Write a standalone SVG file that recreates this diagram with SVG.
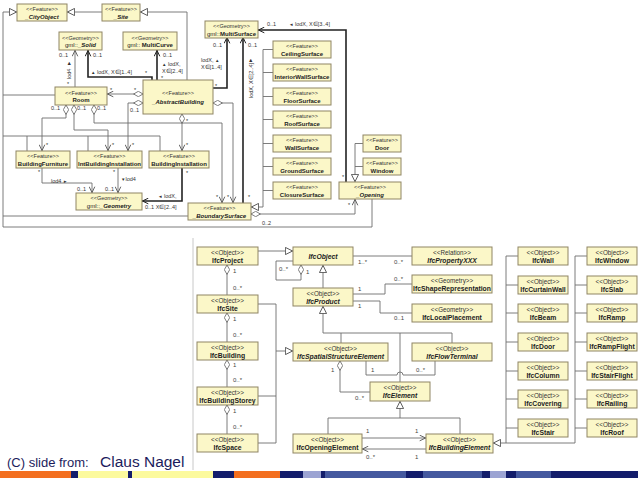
<svg xmlns="http://www.w3.org/2000/svg" width="638" height="478" viewBox="0 0 638 478">
<style>
.b{fill:#fbf7c8;stroke:#8f8564;stroke-width:1}
.s{font-family:"Liberation Sans",Arial,sans-serif;font-size:5.5px;fill:#333;text-anchor:middle}
.n{font-family:"Liberation Sans",Arial,sans-serif;font-size:6px;font-weight:bold;fill:#222;text-anchor:middle}
.s2{font-family:"Liberation Sans",Arial,sans-serif;font-size:6.3px;fill:#333;text-anchor:middle}
.n2{font-family:"Liberation Sans",Arial,sans-serif;font-size:6.8px;font-weight:bold;fill:#222;text-anchor:middle}
.i{font-style:italic}
.r{font-weight:normal}
.c{fill:none;stroke:#6e6e6e;stroke-width:0.9}
.k{fill:none;stroke:#222;stroke-width:1.6}
.m{font-family:"Liberation Sans",Arial,sans-serif;font-size:5.5px;fill:#333}
.m2{font-family:"Liberation Sans",Arial,sans-serif;font-size:6px;fill:#444}
</style>
<defs>
<marker id="tri" viewBox="0 0 10 10" refX="10" refY="5" markerWidth="8" markerHeight="8" markerUnits="userSpaceOnUse" orient="auto"><path d="M0.5,0.5 L9.5,5 L0.5,9.5 z" fill="#fff" stroke="#555" stroke-width="1.2"/></marker>
<marker id="arr" viewBox="0 0 10 10" refX="10" refY="5" markerWidth="7" markerHeight="7" markerUnits="userSpaceOnUse" orient="auto"><path d="M1,1 L9.5,5 L1,9" fill="none" stroke="#555" stroke-width="1.3"/></marker>
<marker id="arrk" viewBox="0 0 10 10" refX="10" refY="5" markerWidth="7" markerHeight="7" markerUnits="userSpaceOnUse" orient="auto"><path d="M1,1 L9.5,5 L1,9" fill="none" stroke="#222" stroke-width="1.4"/></marker>
<marker id="dia" viewBox="0 0 16 10" refX="0.5" refY="5" markerWidth="10" markerHeight="6.5" markerUnits="userSpaceOnUse" orient="auto"><path d="M0.5,5 L8,0.7 L15.5,5 L8,9.3 z" fill="#fff" stroke="#555" stroke-width="1.2"/></marker>
</defs>
<rect width="638" height="478" fill="#fff"/>

<g id="connectors">
<!-- CityGML generalizations -->
<path class="c" d="M102,12 H67" marker-end="url(#tri)"/>
<path class="c" d="M3,227 V12 H17" marker-end="url(#tri)"/>
<path class="c" d="M55,95 H3"/>
<path class="c" d="M3,136 H160 V151 M27,136 V151 M88,136 V151"/>
<path class="c" d="M188,216 H3"/>
<path class="c" d="M372,199 V227 H3"/>
<path class="c" d="M187,80 V12 H140" marker-end="url(#tri)"/>
<path class="c" d="M263,49.5 V207 H251" marker-end="url(#tri)"/>
<path class="c" d="M273,49.5 H263 M273,72.5 H263 M273,96.5 H263 M273,119.5 H263 M273,143.5 H263 M273,166.5 H263 M273,190.5 H263"/>
<path class="c" d="M363,143.5 H355 V182" marker-end="url(#tri)"/>
<path class="c" d="M363,166.5 H355"/>
<!-- CityGML aggregations -->
<path class="c" d="M143,94 H107" marker-start="url(#dia)" marker-end="url(#arr)"/>
<path class="c" d="M143,103 H128 V151" marker-start="url(#dia)" marker-end="url(#arr)"/>
<path class="c" d="M182,114 V151" marker-start="url(#dia)" marker-end="url(#arr)"/>
<path class="c" d="M213,103 H233 V203" marker-start="url(#dia)" marker-end="url(#arr)"/>
<path class="c" d="M66,105 V118 H42 V151" marker-start="url(#dia)" marker-end="url(#arr)"/>
<path class="c" d="M74,105 V130 H108 V151" marker-start="url(#dia)" marker-end="url(#arr)"/>
<path class="c" d="M94,105 V123 H222 V203" marker-start="url(#dia)" marker-end="url(#arr)"/>
<path class="c" d="M251,214 H355 V199" marker-start="url(#dia)" marker-end="url(#arr)"/>
<!-- CityGML geometry associations -->
<path class="k" d="M152,80 V77 H88 V50" marker-end="url(#arrk)"/>
<path class="c" d="M75,87 V50" marker-end="url(#arr)"/>
<path class="k" d="M157,80 V50" marker-end="url(#arrk)"/>
<path class="k" d="M213,88 H227 V37" marker-end="url(#arrk)"/>
<path class="k" d="M243,203 V37" marker-end="url(#arrk)"/>
<path class="k" d="M346,182 V30 H258" marker-end="url(#arrk)"/>
<path class="k" d="M182,168 V201 H142" marker-end="url(#arrk)"/>
<path class="c" d="M42,168 V183 H92 V193" marker-end="url(#arr)"/>
<path class="c" d="M118,168 V193" marker-end="url(#arr)"/>

<!-- IFC frame -->
<path d="M193,238 V470" fill="none" stroke="#c8c8c8" stroke-width="1"/>
<!-- IFC generalizations -->
<path class="c" d="M258,251 H293" marker-end="url(#tri)"/>
<path class="c" d="M323,288 V265" marker-end="url(#tri)"/>
<path class="c" d="M323,333 V306" marker-end="url(#tri)"/>
<path class="c" d="M323,333 H452 V343 M341,333 V343 M400,333 V382"/>
<path class="c" d="M258,304 H276 V443 H258 M258,396 H276"/>
<path class="c" d="M276,351 H293" marker-end="url(#tri)"/>
<path class="c" d="M400,418 V401" marker-end="url(#tri)"/>
<path class="c" d="M328,434 V418 H460 V434"/>
<path class="c" d="M575,443 H493" marker-end="url(#tri)"/>
<path class="c" d="M506,256 V443 M575,256 V443"/>
<path class="c" d="M506,256 H518 M506,285 H518 M506,313 H518 M506,342 H518 M506,371 H518 M506,399 H518 M506,428 H518"/>
<path class="c" d="M575,256 H587 M575,285 H587 M575,313 H587 M575,342 H587 M575,371 H587 M575,399 H587 M575,428 H587"/>
<!-- IFC aggregations -->
<path class="c" d="M227,265 V295" marker-start="url(#dia)"/>
<path class="c" d="M227,313 V342" marker-start="url(#dia)"/>
<path class="c" d="M227,360 V387" marker-start="url(#dia)"/>
<path class="c" d="M227,405 V434" marker-start="url(#dia)"/>
<path class="c" d="M301,265 V280 H276 V261 H293" marker-start="url(#dia)"/>
<path class="c" d="M340,361 V392 H370" marker-start="url(#dia)"/>
<!-- IFC associations -->
<path class="c" d="M353,256 H412"/>
<path class="c" d="M353,294 H385 V284 H412"/>
<path class="c" d="M353,301 H380 V313 H412"/>
<path class="c" d="M366,361 V375 H397 A3,3 0 0 1 403,375 H435 V361"/>
<path class="c" d="M362,438 H426" marker-end="url(#arr)"/>
<path class="c" d="M426,449 H362" marker-end="url(#arr)"/>
</g>

<g id="labels">
<text class="m" x="59" y="57">0..1</text>
<text class="m" x="93" y="57">0..1</text>
<text class="m" x="66.5" y="65" font-size="4.5">▲</text>
<text class="m" transform="translate(71,79) rotate(-90)">lod4</text>
<text class="m" x="67" y="86">*</text>
<text class="m" x="91" y="74"><tspan font-size="4.5">▲</tspan> lodX, X∈[1..4]</text>
<text class="m" x="145" y="75">*</text>
<text class="m" x="163" y="57">0..1</text>
<text class="m" x="162" y="66"><tspan font-size="4.5">▲</tspan> lodX,</text>
<text class="m" x="162" y="73">X∈[2..4]</text>
<text class="m" x="161" y="80">*</text>
<text class="m" x="110" y="92">*</text>
<text class="m" x="134" y="92">*</text>
<text class="m" x="51" y="110">0..1</text>
<text class="m" x="77" y="110">0..1</text>
<text class="m" x="97" y="110">0..1</text>
<text class="m" x="130" y="112">0..1</text>
<text class="m" x="186" y="123">*</text>
<text class="m" x="46" y="147">*</text>
<text class="m" x="112" y="147">*</text>
<text class="m" x="132" y="147">*</text>
<text class="m" x="186" y="147">*</text>
<text class="m" x="38" y="174">*</text>
<text class="m" x="113" y="174">*</text>
<text class="m" x="186" y="175">*</text>
<text class="m" x="51" y="183">lod4 <tspan font-size="4.5">►</tspan></text>
<text class="m" x="121" y="181"><tspan font-size="4.5">▼</tspan>lod4</text>
<text class="m" x="77" y="191">0..1</text>
<text class="m" x="105" y="191">0..1</text>
<text class="m" x="158" y="198"><tspan font-size="4.5">◄</tspan> lodX,</text>
<text class="m" x="145" y="209">0..1 X∈[2..4]</text>
<text class="m" x="213" y="47">0..1</text>
<text class="m" x="201" y="62">lodX, <tspan font-size="4.5">▲</tspan></text>
<text class="m" x="201" y="69">X∈[1..4]</text>
<text class="m" x="215" y="88">*</text>
<text class="m" x="248" y="47">0..1</text>
<text class="m" x="248" y="62" font-size="4.5">▲</text>
<text class="m" transform="translate(252.5,98) rotate(-90)">lodX, X∈[2..4]</text>
<text class="m" x="267" y="26">0..1</text>
<text class="m" x="289" y="26"><tspan font-size="4.5">◄</tspan> lodX, X∈[3..4]</text>
<text class="m" x="216" y="199">*</text>
<text class="m" x="227" y="199">*</text>
<text class="m" x="248" y="199">*</text>
<text class="m" x="262" y="225">0..2</text>
<text class="m" x="342" y="179">*</text>
<text class="m" x="348" y="207">*</text>

<text class="m2" x="233" y="273">1</text>
<text class="m2" x="233" y="290">0..*</text>
<text class="m2" x="233" y="321">1</text>
<text class="m2" x="233" y="337">0..*</text>
<text class="m2" x="233" y="367">1</text>
<text class="m2" x="233" y="382">0..*</text>
<text class="m2" x="233" y="413">1</text>
<text class="m2" x="233" y="429">0..*</text>
<text class="m2" x="279" y="271">0..*</text>
<text class="m2" x="306" y="274">1</text>
<text class="m2" x="358" y="264">1..*</text>
<text class="m2" x="394" y="264">0..*</text>
<text class="m2" x="358" y="291">1</text>
<text class="m2" x="394" y="281">0..*</text>
<text class="m2" x="358" y="308">1</text>
<text class="m2" x="394" y="320">0..1</text>
<text class="m2" x="331" y="372">1</text>
<text class="m2" x="371" y="372">1</text>
<text class="m2" x="416" y="372">0..*</text>
<text class="m2" x="355" y="400">0..*</text>
<text class="m2" x="366" y="433">1</text>
<text class="m2" x="415" y="433">1</text>
<text class="m2" x="366" y="459">0..*</text>
<text class="m2" x="415" y="459">1</text>
</g>

<!-- CityGML nodes -->
<g id="n-cityobject"><rect class="b" x="17" y="4" width="50" height="17"/><text class="s" x="42" y="11">&lt;&lt;Feature&gt;&gt;</text><text class="n i" x="42" y="18.5">_CityObject</text></g>
<g id="n-site"><rect class="b" x="102" y="4" width="38" height="17"/><text class="s" x="121" y="11">&lt;&lt;Feature&gt;&gt;</text><text class="n i" x="121" y="18.5">_Site</text></g>
<g id="n-solid"><rect class="b" x="59" y="32" width="43" height="18"/><text class="s" x="80.5" y="39.5">&lt;&lt;Geometry&gt;&gt;</text><text class="n" x="80.5" y="47"><tspan class="r">gml::</tspan><tspan class="i">_Solid</tspan></text></g>
<g id="n-multicurve"><rect class="b" x="123" y="32" width="54" height="18"/><text class="s" x="150" y="39.5">&lt;&lt;Geometry&gt;&gt;</text><text class="n" x="150" y="47"><tspan class="r">gml:: </tspan>MultiCurve</text></g>
<g id="n-multisurface"><rect class="b" x="205" y="21" width="53" height="17"/><text class="s" x="231.5" y="28">&lt;&lt;Geometry&gt;&gt;</text><text class="n" x="231.5" y="35.5"><tspan class="r">gml::</tspan>MultiSurface</text></g>
<g id="n-room"><rect class="b" x="55" y="87" width="52" height="18"/><text class="s" x="81" y="94.5">&lt;&lt;Feature&gt;&gt;</text><text class="n" x="81" y="102">Room</text></g>
<g id="n-abstractbuilding"><rect class="b" x="143" y="80" width="70" height="34"/><text class="s" x="178" y="95">&lt;&lt;Feature&gt;&gt;</text><text class="n i" x="178" y="104">_AbstractBuilding</text></g>
<g id="n-buildingfurniture"><rect class="b" x="16" y="151" width="54" height="17"/><text class="s" x="43" y="158">&lt;&lt;Feature&gt;&gt;</text><text class="n" x="43" y="165.5">BuildingFurniture</text></g>
<g id="n-intbuildinginstallation"><rect class="b" x="77" y="151" width="65" height="17"/><text class="s" x="109.5" y="158">&lt;&lt;Feature&gt;&gt;</text><text class="n" x="109.5" y="165.5">IntBuildingInstallation</text></g>
<g id="n-buildinginstallation"><rect class="b" x="149" y="151" width="60" height="17"/><text class="s" x="179" y="158">&lt;&lt;Feature&gt;&gt;</text><text class="n" x="179" y="165.5">BuildingInstallation</text></g>
<g id="n-geometry"><rect class="b" x="76" y="193" width="66" height="17"/><text class="s" x="109" y="200">&lt;&lt;Geometry&gt;&gt;</text><text class="n" x="109" y="207.5"><tspan class="r">gml::</tspan><tspan class="i">_Geometry</tspan></text></g>
<g id="n-boundarysurface"><rect class="b" x="188" y="203" width="63" height="17"/><text class="s" x="219.5" y="210">&lt;&lt;Feature&gt;&gt;</text><text class="n i" x="219.5" y="217.5">_BoundarySurface</text></g>
<g id="n-ceilingsurface"><rect class="b" x="273" y="41" width="58" height="17"/><text class="s" x="302" y="48">&lt;&lt;Feature&gt;&gt;</text><text class="n" x="302" y="55.5">CeilingSurface</text></g>
<g id="n-interiorwallsurface"><rect class="b" x="273" y="64" width="58" height="17"/><text class="s" x="302" y="71">&lt;&lt;Feature&gt;&gt;</text><text class="n" x="302" y="78.5">InteriorWallSurface</text></g>
<g id="n-floorsurface"><rect class="b" x="273" y="88" width="58" height="17"/><text class="s" x="302" y="95">&lt;&lt;Feature&gt;&gt;</text><text class="n" x="302" y="102.5">FloorSurface</text></g>
<g id="n-roofsurface"><rect class="b" x="273" y="111" width="58" height="17"/><text class="s" x="302" y="118">&lt;&lt;Feature&gt;&gt;</text><text class="n" x="302" y="125.5">RoofSurface</text></g>
<g id="n-wallsurface"><rect class="b" x="273" y="135" width="58" height="17"/><text class="s" x="302" y="142">&lt;&lt;Feature&gt;&gt;</text><text class="n" x="302" y="149.5">WallSurface</text></g>
<g id="n-groundsurface"><rect class="b" x="273" y="158" width="58" height="17"/><text class="s" x="302" y="165">&lt;&lt;Feature&gt;&gt;</text><text class="n" x="302" y="172.5">GroundSurface</text></g>
<g id="n-closuresurface"><rect class="b" x="273" y="182" width="58" height="17"/><text class="s" x="302" y="189">&lt;&lt;Feature&gt;&gt;</text><text class="n" x="302" y="196.5">ClosureSurface</text></g>
<g id="n-door"><rect class="b" x="363" y="135" width="38" height="17"/><text class="s" x="382" y="142">&lt;&lt;Feature&gt;&gt;</text><text class="n" x="382" y="149.5">Door</text></g>
<g id="n-window"><rect class="b" x="363" y="158" width="38" height="17"/><text class="s" x="382" y="165">&lt;&lt;Feature&gt;&gt;</text><text class="n" x="382" y="172.5">Window</text></g>
<g id="n-opening"><rect class="b" x="339" y="182" width="62" height="17"/><text class="s" x="370" y="189">&lt;&lt;Feature&gt;&gt;</text><text class="n i" x="370" y="196.5">_Opening</text></g>

<!-- IFC nodes -->
<g id="n-ifcproject"><rect class="b" x="197" y="247" width="61" height="18"/><text class="s2" x="227.5" y="254.5">&lt;&lt;Object&gt;&gt;</text><text class="n2" x="227.5" y="262.5">IfcProject</text></g>
<g id="n-ifcobject"><rect class="b" x="293" y="247" width="60" height="18"/><text class="n2 i" x="323" y="258.5">IfcObject</text></g>
<g id="n-ifcsite"><rect class="b" x="197" y="295" width="61" height="18"/><text class="s2" x="227.5" y="302.5">&lt;&lt;Object&gt;&gt;</text><text class="n2" x="227.5" y="310.5">IfcSite</text></g>
<g id="n-ifcproduct"><rect class="b" x="293" y="288" width="60" height="18"/><text class="s2" x="323" y="295.5">&lt;&lt;Object&gt;&gt;</text><text class="n2 i" x="323" y="303.5">IfcProduct</text></g>
<g id="n-ifcbuilding"><rect class="b" x="197" y="342" width="61" height="18"/><text class="s2" x="227.5" y="349.5">&lt;&lt;Object&gt;&gt;</text><text class="n2" x="227.5" y="357.5">IfcBuilding</text></g>
<g id="n-ifcspatialstructureelement"><rect class="b" x="293" y="343" width="95" height="18"/><text class="s2" x="340.5" y="350.5">&lt;&lt;Object&gt;&gt;</text><text class="n2 i" x="340.5" y="358.5">IfcSpatialStructureElement</text></g>
<g id="n-ifcflowterminal"><rect class="b" x="412" y="343" width="80" height="18"/><text class="s2" x="452" y="350.5">&lt;&lt;Object&gt;&gt;</text><text class="n2 i" x="452" y="358.5">IfcFlowTerminal</text></g>
<g id="n-ifcelement"><rect class="b" x="370" y="382" width="60" height="19"/><text class="s2" x="400" y="390">&lt;&lt;Object&gt;&gt;</text><text class="n2 i" x="400" y="398">IfcElement</text></g>
<g id="n-ifcbuildingstorey"><rect class="b" x="197" y="387" width="61" height="18"/><text class="s2" x="227.5" y="394.5">&lt;&lt;Object&gt;&gt;</text><text class="n2" x="227.5" y="402.5">IfcBuildingStorey</text></g>
<g id="n-ifcspace"><rect class="b" x="197" y="434" width="61" height="18"/><text class="s2" x="227.5" y="441.5">&lt;&lt;Object&gt;&gt;</text><text class="n2" x="227.5" y="449.5">IfcSpace</text></g>
<g id="n-ifcopeningelement"><rect class="b" x="293" y="434" width="69" height="19"/><text class="s2" x="327.5" y="442">&lt;&lt;Object&gt;&gt;</text><text class="n2" x="327.5" y="450">IfcOpeningElement</text></g>
<g id="n-ifcbuildingelement"><rect class="b" x="426" y="434" width="67" height="19"/><text class="s2" x="459.5" y="442">&lt;&lt;Object&gt;&gt;</text><text class="n2 i" x="459.5" y="450">IfcBuildingElement</text></g>
<g id="n-ifcpropertyxxx"><rect class="b" x="412" y="247" width="80" height="18"/><text class="s2" x="452" y="254.5">&lt;&lt;Relation&gt;&gt;</text><text class="n2 i" x="452" y="262.5">IfcPropertyXXX</text></g>
<g id="n-ifcshaperepresentation"><rect class="b" x="412" y="275" width="80" height="18"/><text class="s2" x="452" y="282.5">&lt;&lt;Geometry&gt;&gt;</text><text class="n2" x="452" y="290.5">IfcShapeRepresentation</text></g>
<g id="n-ifclocalplacement"><rect class="b" x="412" y="304" width="80" height="18"/><text class="s2" x="452" y="311.5">&lt;&lt;Geometry&gt;&gt;</text><text class="n2" x="452" y="319.5">IfcLocalPlacement</text></g>
<g id="n-ifcwall"><rect class="b" x="518" y="247" width="50" height="18"/><text class="s2" x="543" y="254.5">&lt;&lt;Object&gt;&gt;</text><text class="n2" x="543" y="262.5">IfcWall</text></g>
<g id="n-ifccurtainwall"><rect class="b" x="518" y="276" width="50" height="18"/><text class="s2" x="543" y="283.5">&lt;&lt;Object&gt;&gt;</text><text class="n2" x="543" y="291.5">IfcCurtainWall</text></g>
<g id="n-ifcbeam"><rect class="b" x="518" y="304" width="50" height="18"/><text class="s2" x="543" y="311.5">&lt;&lt;Object&gt;&gt;</text><text class="n2" x="543" y="319.5">IfcBeam</text></g>
<g id="n-ifcdoor"><rect class="b" x="518" y="333" width="50" height="18"/><text class="s2" x="543" y="340.5">&lt;&lt;Object&gt;&gt;</text><text class="n2" x="543" y="348.5">IfcDoor</text></g>
<g id="n-ifccolumn"><rect class="b" x="518" y="362" width="50" height="18"/><text class="s2" x="543" y="369.5">&lt;&lt;Object&gt;&gt;</text><text class="n2" x="543" y="377.5">IfcColumn</text></g>
<g id="n-ifccovering"><rect class="b" x="518" y="390" width="50" height="18"/><text class="s2" x="543" y="397.5">&lt;&lt;Object&gt;&gt;</text><text class="n2" x="543" y="405.5">IfcCovering</text></g>
<g id="n-ifcstair"><rect class="b" x="518" y="419" width="50" height="18"/><text class="s2" x="543" y="426.5">&lt;&lt;Object&gt;&gt;</text><text class="n2" x="543" y="434.5">IfcStair</text></g>
<g id="n-ifcwindow"><rect class="b" x="587" y="247" width="50" height="18"/><text class="s2" x="612" y="254.5">&lt;&lt;Object&gt;&gt;</text><text class="n2" x="612" y="262.5">IfcWindow</text></g>
<g id="n-ifcslab"><rect class="b" x="587" y="276" width="50" height="18"/><text class="s2" x="612" y="283.5">&lt;&lt;Object&gt;&gt;</text><text class="n2" x="612" y="291.5">IfcSlab</text></g>
<g id="n-ifcramp"><rect class="b" x="587" y="304" width="50" height="18"/><text class="s2" x="612" y="311.5">&lt;&lt;Object&gt;&gt;</text><text class="n2" x="612" y="319.5">IfcRamp</text></g>
<g id="n-ifcrampflight"><rect class="b" x="587" y="333" width="50" height="18"/><text class="s2" x="612" y="340.5">&lt;&lt;Object&gt;&gt;</text><text class="n2" x="612" y="348.5">IfcRampFlight</text></g>
<g id="n-ifcstairflight"><rect class="b" x="587" y="362" width="50" height="18"/><text class="s2" x="612" y="369.5">&lt;&lt;Object&gt;&gt;</text><text class="n2" x="612" y="377.5">IfcStairFlight</text></g>
<g id="n-ifcrailing"><rect class="b" x="587" y="390" width="50" height="18"/><text class="s2" x="612" y="397.5">&lt;&lt;Object&gt;&gt;</text><text class="n2" x="612" y="405.5">IfcRailing</text></g>
<g id="n-ifcroof"><rect class="b" x="587" y="419" width="50" height="18"/><text class="s2" x="612" y="426.5">&lt;&lt;Object&gt;&gt;</text><text class="n2" x="612" y="434.5">IfcRoof</text></g>

<!-- footer -->
<g id="credit">
<text x="7" y="467" font-family="Liberation Sans, Arial, sans-serif" font-size="13" fill="#1c1c5c">(C) slide from:</text>
<text x="100" y="467" font-family="Liberation Sans, Arial, sans-serif" font-size="15.5" fill="#1c1c5c">Claus Nagel</text>
</g>
<g id="bar">
<rect x="0" y="471" width="638" height="7" fill="#131d6b"/>
<rect x="0" y="471" width="71" height="7" fill="#f36f1f"/>
<rect x="78" y="471" width="50" height="7" fill="#fcfa9e"/>
<rect x="132" y="471" width="81" height="7" fill="#fcfa9e"/>
<rect x="234" y="471" width="46" height="7" fill="#f36f1f"/>
<rect x="303" y="471" width="18" height="7" fill="#9ca4d3"/>
<rect x="325" y="471" width="81" height="7" fill="#45599f"/>
<rect x="423" y="471" width="59" height="7" fill="#45599f"/>
<rect x="490" y="471" width="16" height="7" fill="#9ca4d3"/>
<rect x="516" y="471" width="35" height="7" fill="#45599f"/>
</g>
</svg>
